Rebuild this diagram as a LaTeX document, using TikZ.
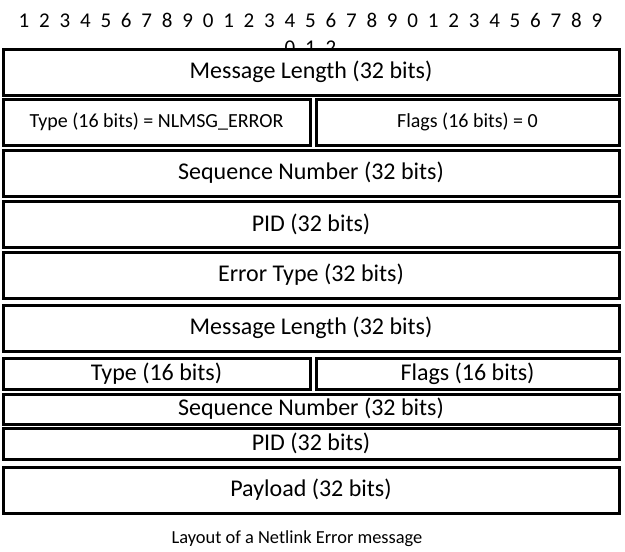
\documentclass[tikz,border=0pt]{standalone}
\usepackage{fontspec}
\setmainfont{Carlito}
\begin{document}
\begin{tikzpicture}[x=1pt,y=-1pt,
  fld/.style={draw, fill=white, line width=3pt, inner sep=0pt, font=\fontsize{24}{28}\selectfont},
  lbl/.style={inner sep=0pt, anchor=base, font=\fontsize{21}{26}\selectfont}]
\useasboundingbox (0,0) rectangle (625,552);
\newcommand{\fbx}[6]{\node[fld, minimum width={#3-#2}, minimum height={#5-#4}] (#1) at ({(#2+#3)/2},{(#4+#5)/2}) {#6};}
\foreach \d [count=\k from 0] in {1,2,3,4,5,6,7,8,9,0,1,2,3,4,5,6,7,8,9,0,1,2,3,4,5,6,7,8,9}
  \node[lbl] (n\k) at ({24+\k*20.46},27) {\d};
\foreach \d [count=\k from 0] in {0,1,2}
  \node[lbl] (m\k) at ({290+\k*20.46},54) {\d};
\fbx{a}{3}{619}{49}{95}{Message Length (32 bits)}
\fbx{b1}{3}{310}{99}{145}{\fontsize{20}{24}\selectfont Type (16 bits) = NLMSG\_ERROR}
\fbx{b2}{316}{619}{99}{145}{\fontsize{20}{24}\selectfont Flags (16 bits) = 0}
\fbx{c}{3}{619}{150}{196}{Sequence Number (32 bits)}
\fbx{d}{3}{619}{201}{247}{PID (32 bits)}
\fbx{e}{3}{619}{252}{298}{Error Type (32 bits)}
\fbx{f}{3}{619}{305}{351}{Message Length (32 bits)}
\fbx{g1}{3}{310}{358}{389}{Type (16 bits)}
\fbx{g2}{316}{619}{358}{389}{Flags (16 bits)}
\fbx{h}{3}{619}{394}{424}{Sequence Number (32 bits)}
\fbx{i}{3}{619}{428}{459}{PID (32 bits)}
\fbx{j}{3}{619}{467}{513}{Payload (32 bits)}
\node[inner sep=0pt, font=\fontsize{18.4}{22}\selectfont] (cap) at (297,539) {Layout of a Netlink Error message};
\end{tikzpicture}
\end{document}
